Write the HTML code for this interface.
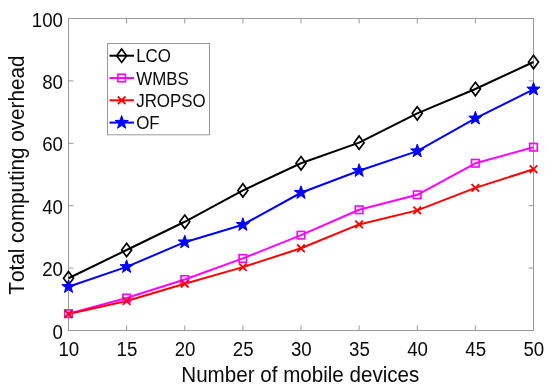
<!DOCTYPE html>
<html><head><meta charset="utf-8"><style>
html,body{margin:0;padding:0;background:#fff;overflow:hidden;}
svg{display:block;}
text{font-kerning:none;font-family:"Liberation Sans",Arial,sans-serif;font-size:19px;fill:#0a0a0a;}
</style></head><body>
<svg width="550" height="391" viewBox="0 0 550 391">
<rect x="68.5" y="18.5" width="465.0" height="312.0" fill="#fff" stroke="#999999" stroke-width="1"/>
<path d="M68.5 330.5V325.5M68.5 18.5V23.5" stroke="#999999" stroke-width="1"/>
<path d="M126.62 330.5V325.5M126.62 18.5V23.5" stroke="#999999" stroke-width="1"/>
<path d="M184.75 330.5V325.5M184.75 18.5V23.5" stroke="#999999" stroke-width="1"/>
<path d="M242.88 330.5V325.5M242.88 18.5V23.5" stroke="#999999" stroke-width="1"/>
<path d="M301 330.5V325.5M301 18.5V23.5" stroke="#999999" stroke-width="1"/>
<path d="M359.12 330.5V325.5M359.12 18.5V23.5" stroke="#999999" stroke-width="1"/>
<path d="M417.25 330.5V325.5M417.25 18.5V23.5" stroke="#999999" stroke-width="1"/>
<path d="M475.38 330.5V325.5M475.38 18.5V23.5" stroke="#999999" stroke-width="1"/>
<path d="M533.5 330.5V325.5M533.5 18.5V23.5" stroke="#999999" stroke-width="1"/>
<path d="M68.5 330.5H73.5M533.5 330.5H528.5" stroke="#999999" stroke-width="1"/>
<path d="M68.5 268.1H73.5M533.5 268.1H528.5" stroke="#999999" stroke-width="1"/>
<path d="M68.5 205.7H73.5M533.5 205.7H528.5" stroke="#999999" stroke-width="1"/>
<path d="M68.5 143.3H73.5M533.5 143.3H528.5" stroke="#999999" stroke-width="1"/>
<path d="M68.5 80.9H73.5M533.5 80.9H528.5" stroke="#999999" stroke-width="1"/>
<path d="M68.5 18.5H73.5M533.5 18.5H528.5" stroke="#999999" stroke-width="1"/>
<text transform="translate(68.8 355.8) scale(1 1.09)" text-anchor="middle" style="font-size:18.7px">10</text>
<text transform="translate(126.92 355.8) scale(1 1.09)" text-anchor="middle" style="font-size:18.7px">15</text>
<text transform="translate(185.05 355.8) scale(1 1.09)" text-anchor="middle" style="font-size:18.7px">20</text>
<text transform="translate(243.18 355.8) scale(1 1.09)" text-anchor="middle" style="font-size:18.7px">25</text>
<text transform="translate(301.3 355.8) scale(1 1.09)" text-anchor="middle" style="font-size:18.7px">30</text>
<text transform="translate(359.43 355.8) scale(1 1.09)" text-anchor="middle" style="font-size:18.7px">35</text>
<text transform="translate(417.55 355.8) scale(1 1.09)" text-anchor="middle" style="font-size:18.7px">40</text>
<text transform="translate(475.68 355.8) scale(1 1.09)" text-anchor="middle" style="font-size:18.7px">45</text>
<text transform="translate(533.8 355.8) scale(1 1.09)" text-anchor="middle" style="font-size:18.7px">50</text>
<text transform="translate(63 338.5) scale(1 1.09)" text-anchor="end" style="font-size:18.7px">0</text>
<text transform="translate(63 276.1) scale(1 1.09)" text-anchor="end" style="font-size:18.7px">20</text>
<text transform="translate(63 213.7) scale(1 1.09)" text-anchor="end" style="font-size:18.7px">40</text>
<text transform="translate(63 151.3) scale(1 1.09)" text-anchor="end" style="font-size:18.7px">60</text>
<text transform="translate(63 88.9) scale(1 1.09)" text-anchor="end" style="font-size:18.7px">80</text>
<text transform="translate(63 26.5) scale(1 1.09)" text-anchor="end" style="font-size:18.7px">100</text>
<text transform="translate(300.3 381.9) scale(1 1.078)" text-anchor="middle" style="font-size:20.6px">Number of mobile devices</text>
<text transform="translate(23.6 175.1) rotate(-90) scale(1 1.075)" text-anchor="middle" style="font-size:20.7px">Total computing overhead</text>
<polyline points="68.5,278.24 126.62,250 184.75,221.77 242.88,190.41 301,163.27 359.12,142.68 417.25,113.35 475.38,89.01 533.5,62.02" fill="none" stroke="#000000" stroke-width="2.0" stroke-linejoin="round"/>
<polyline points="68.5,313.65 126.62,298.05 184.75,279.49 242.88,258.43 301,235.18 359.12,209.76 417.25,194.78 475.38,163.27 533.5,147.2" fill="none" stroke="#ff00ff" stroke-width="2.0" stroke-linejoin="round"/>
<polyline points="68.5,313.96 126.62,301.02 184.75,283.7 242.88,267.16 301,248.29 359.12,224.42 417.25,210.38 475.38,187.92 533.5,169.2" fill="none" stroke="#ff0000" stroke-width="2.0" stroke-linejoin="round"/>
<polyline points="68.5,286.82 126.62,266.85 184.75,242.2 242.88,224.73 301,192.75 359.12,170.76 417.25,151.1 475.38,118.34 533.5,89.32" fill="none" stroke="#0000ff" stroke-width="2.0" stroke-linejoin="round"/>
<path d="M68.5 271.54L73.5 278.24L68.5 284.94L63.5 278.24Z" fill="none" stroke="#000000" stroke-width="1.7"/>
<path d="M126.62 243.3L131.62 250L126.62 256.7L121.62 250Z" fill="none" stroke="#000000" stroke-width="1.7"/>
<path d="M184.75 215.07L189.75 221.77L184.75 228.47L179.75 221.77Z" fill="none" stroke="#000000" stroke-width="1.7"/>
<path d="M242.88 183.71L247.88 190.41L242.88 197.11L237.88 190.41Z" fill="none" stroke="#000000" stroke-width="1.7"/>
<path d="M301 156.57L306 163.27L301 169.97L296 163.27Z" fill="none" stroke="#000000" stroke-width="1.7"/>
<path d="M359.12 135.98L364.12 142.68L359.12 149.38L354.12 142.68Z" fill="none" stroke="#000000" stroke-width="1.7"/>
<path d="M417.25 106.65L422.25 113.35L417.25 120.05L412.25 113.35Z" fill="none" stroke="#000000" stroke-width="1.7"/>
<path d="M475.38 82.31L480.38 89.01L475.38 95.71L470.38 89.01Z" fill="none" stroke="#000000" stroke-width="1.7"/>
<path d="M533.5 55.32L538.5 62.02L533.5 68.72L528.5 62.02Z" fill="none" stroke="#000000" stroke-width="1.7"/>
<rect x="64.75" y="309.9" width="7.5" height="7.5" fill="none" stroke="#ff00ff" stroke-width="1.6"/>
<rect x="122.88" y="294.3" width="7.5" height="7.5" fill="none" stroke="#ff00ff" stroke-width="1.6"/>
<rect x="181" y="275.74" width="7.5" height="7.5" fill="none" stroke="#ff00ff" stroke-width="1.6"/>
<rect x="239.12" y="254.68" width="7.5" height="7.5" fill="none" stroke="#ff00ff" stroke-width="1.6"/>
<rect x="297.25" y="231.43" width="7.5" height="7.5" fill="none" stroke="#ff00ff" stroke-width="1.6"/>
<rect x="355.38" y="206.01" width="7.5" height="7.5" fill="none" stroke="#ff00ff" stroke-width="1.6"/>
<rect x="413.5" y="191.03" width="7.5" height="7.5" fill="none" stroke="#ff00ff" stroke-width="1.6"/>
<rect x="471.62" y="159.52" width="7.5" height="7.5" fill="none" stroke="#ff00ff" stroke-width="1.6"/>
<rect x="529.75" y="143.45" width="7.5" height="7.5" fill="none" stroke="#ff00ff" stroke-width="1.6"/>
<path d="M64.7 310.16L72.3 317.76M64.7 317.76L72.3 310.16" stroke="#ff0000" stroke-width="1.8" fill="none"/>
<path d="M122.83 297.22L130.43 304.82M122.83 304.82L130.43 297.22" stroke="#ff0000" stroke-width="1.8" fill="none"/>
<path d="M180.95 279.9L188.55 287.5M180.95 287.5L188.55 279.9" stroke="#ff0000" stroke-width="1.8" fill="none"/>
<path d="M239.07 263.36L246.68 270.96M239.07 270.96L246.68 263.36" stroke="#ff0000" stroke-width="1.8" fill="none"/>
<path d="M297.2 244.49L304.8 252.09M297.2 252.09L304.8 244.49" stroke="#ff0000" stroke-width="1.8" fill="none"/>
<path d="M355.32 220.62L362.93 228.22M355.32 228.22L362.93 220.62" stroke="#ff0000" stroke-width="1.8" fill="none"/>
<path d="M413.45 206.58L421.05 214.18M413.45 214.18L421.05 206.58" stroke="#ff0000" stroke-width="1.8" fill="none"/>
<path d="M471.57 184.12L479.18 191.72M471.57 191.72L479.18 184.12" stroke="#ff0000" stroke-width="1.8" fill="none"/>
<path d="M529.7 165.4L537.3 173M529.7 173L537.3 165.4" stroke="#ff0000" stroke-width="1.8" fill="none"/>
<polygon points="68.5,279.82 70.15,284.55 75.16,284.66 71.16,287.69 72.61,292.48 68.5,289.62 64.39,292.48 65.84,287.69 61.84,284.66 66.85,284.55" fill="#0000ff" stroke="#0000ff" stroke-width="1"/>
<polygon points="126.62,259.85 128.27,264.59 133.28,264.69 129.29,267.72 130.74,272.52 126.62,269.65 122.51,272.52 123.96,267.72 119.97,264.69 124.98,264.59" fill="#0000ff" stroke="#0000ff" stroke-width="1"/>
<polygon points="184.75,235.2 186.4,239.94 191.41,240.04 187.41,243.07 188.86,247.87 184.75,245 180.64,247.87 182.09,243.07 178.09,240.04 183.1,239.94" fill="#0000ff" stroke="#0000ff" stroke-width="1"/>
<polygon points="242.88,217.73 244.52,222.47 249.53,222.57 245.54,225.6 246.99,230.4 242.88,227.53 238.76,230.4 240.21,225.6 236.22,222.57 241.23,222.47" fill="#0000ff" stroke="#0000ff" stroke-width="1"/>
<polygon points="301,185.75 302.65,190.49 307.66,190.59 303.66,193.62 305.11,198.42 301,195.55 296.89,198.42 298.34,193.62 294.34,190.59 299.35,190.49" fill="#0000ff" stroke="#0000ff" stroke-width="1"/>
<polygon points="359.12,163.76 360.77,168.49 365.78,168.59 361.79,171.62 363.24,176.42 359.12,173.56 355.01,176.42 356.46,171.62 352.47,168.59 357.48,168.49" fill="#0000ff" stroke="#0000ff" stroke-width="1"/>
<polygon points="417.25,144.1 418.9,148.83 423.91,148.94 419.91,151.97 421.36,156.76 417.25,153.9 413.14,156.76 414.59,151.97 410.59,148.94 415.6,148.83" fill="#0000ff" stroke="#0000ff" stroke-width="1"/>
<polygon points="475.38,111.34 477.02,116.07 482.03,116.18 478.04,119.21 479.49,124 475.38,121.14 471.26,124 472.71,119.21 468.72,116.18 473.73,116.07" fill="#0000ff" stroke="#0000ff" stroke-width="1"/>
<polygon points="533.5,82.32 535.15,87.06 540.16,87.16 536.16,90.19 537.61,94.99 533.5,92.12 529.39,94.99 530.84,90.19 526.84,87.16 531.85,87.06" fill="#0000ff" stroke="#0000ff" stroke-width="1"/>
<rect x="107.5" y="43.5" width="102.0" height="91.30000000000001" fill="#fff" stroke="#999999" stroke-width="1"/>
<path d="M109.5 55.7H134" stroke="#000000" stroke-width="2.0"/>
<path d="M121.65 49L126.65 55.7L121.65 62.4L116.65 55.7Z" fill="none" stroke="#000000" stroke-width="1.7"/>
<text transform="translate(136.2 62.4) scale(1 1.062)" style="font-size:16.9px">LCO</text>
<path d="M109.5 78H134" stroke="#ff00ff" stroke-width="2.0"/>
<rect x="117.9" y="74.25" width="7.5" height="7.5" fill="none" stroke="#ff00ff" stroke-width="1.6"/>
<text transform="translate(136.2 84.7) scale(1 1.062)" style="font-size:16.9px">WMBS</text>
<path d="M109.5 100.3H134" stroke="#ff0000" stroke-width="2.0"/>
<path d="M117.85 96.5L125.45 104.1M117.85 104.1L125.45 96.5" stroke="#ff0000" stroke-width="1.8" fill="none"/>
<text transform="translate(136.2 107) scale(1 1.062)" style="font-size:16.9px">JROPSO</text>
<path d="M109.5 122.6H134" stroke="#0000ff" stroke-width="2.0"/>
<polygon points="121.65,115.6 123.3,120.33 128.31,120.44 124.31,123.47 125.76,128.26 121.65,125.4 117.54,128.26 118.99,123.47 114.99,120.44 120,120.33" fill="#0000ff" stroke="#0000ff" stroke-width="1"/>
<text transform="translate(136.2 129.3) scale(1 1.062)" style="font-size:16.9px">OF</text>
</svg>
</body></html>
